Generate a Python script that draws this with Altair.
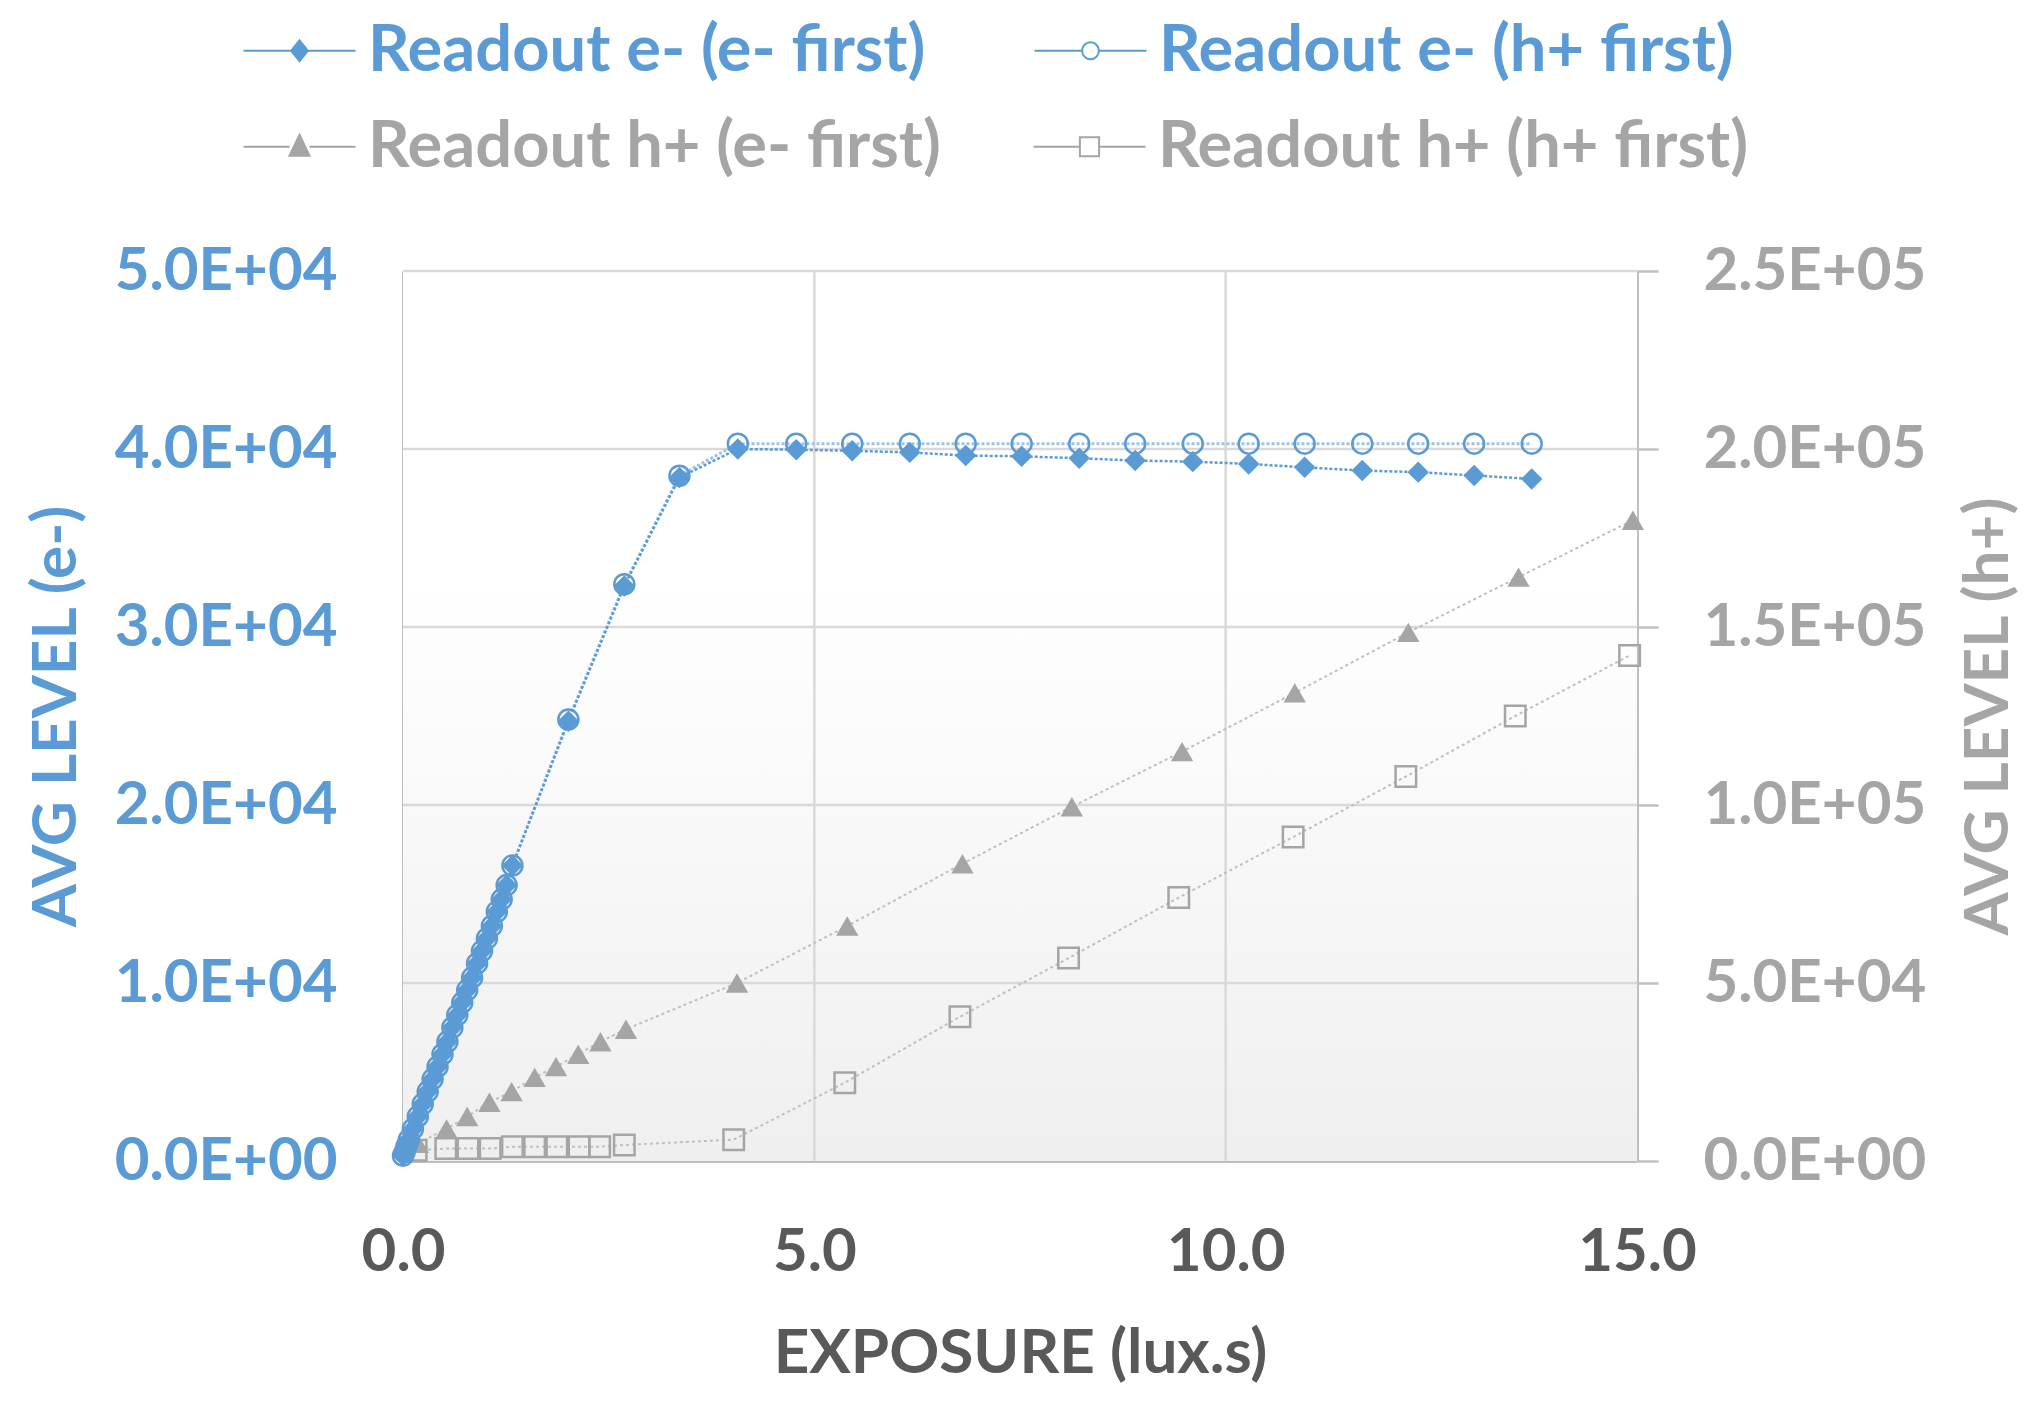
import altair as alt
import pandas as pd

# ---------------- data ----------------
x_e_first = [0.00, 0.02, 0.04, 0.07, 0.12, 0.18, 0.24, 0.30, 0.36, 0.42, 0.48, 0.54, 0.60,
             0.66, 0.72, 0.78, 0.84, 0.90, 0.96, 1.02, 1.08, 1.14, 1.20, 1.26, 1.33,
             2.01, 2.69, 3.36, 4.07, 4.78, 5.46, 6.16, 6.84, 7.52, 8.22, 8.90, 9.60,
             10.28, 10.96, 11.66, 12.34, 13.02, 13.72]
y_e_e_first = [300, 500, 800, 1200, 1800, 2500, 3200, 3900, 4600, 5300, 6000, 6700, 7500,
               8200, 8900, 9600, 10300, 11100, 11800, 12500, 13200, 14000, 14700, 15500, 16600,
               24700, 32300, 38400, 40000, 39960, 39900, 39810, 39630, 39590, 39480, 39350, 39290,
               39160, 38970, 38790, 38700, 38510, 38320]
y_e_h_first = [300, 500, 800, 1200, 1800, 2500, 3200, 3900, 4600, 5300, 6000, 6700, 7500,
               8200, 8900, 9600, 10300, 11100, 11800, 12500, 13200, 14000, 14700, 15500, 16600,
               24800, 32400, 38500, 40300, 40300, 40300, 40300, 40300, 40300, 40300, 40300, 40300,
               40300, 40300, 40300, 40300, 40300, 40300]

x_h_e_first = [0.18, 0.53, 0.78, 1.05, 1.32, 1.60, 1.86, 2.13, 2.40, 2.71, 4.06, 5.40, 6.80,
               8.13, 9.47, 10.84, 12.22, 13.56, 14.95]
y_h_e_first = [5000, 9000, 12500, 16500, 19500, 23500, 26500, 30000, 33500, 37000, 50000, 66000,
               83500, 99500, 115000, 131500, 148500, 164000, 180000]

x_h_h_first = [0.16, 0.52, 0.79, 1.06, 1.33, 1.60, 1.87, 2.14, 2.39, 2.69, 4.02, 5.37, 6.77,
               8.09, 9.43, 10.82, 12.19, 13.52, 14.91]
y_h_h_first = [3000, 3500, 3500, 3500, 4000, 4000, 4000, 4000, 4000, 4500, 6000, 22000, 40500,
               57000, 74000, 91000, 108000, 125000, 142000]

series_blue = ["Readout e- (e- first)", "Readout e- (h+ first)"]
series_gray = ["Readout h+ (e- first)", "Readout h+ (h+  first)"]

x_ticks = [0, 5, 10, 15]
left_ticks = [0, 10000, 20000, 30000, 40000, 50000]
left_labels = ["0.0E+00", "1.0E+04", "2.0E+04", "3.0E+04", "4.0E+04", "5.0E+04"]
right_ticks = [0, 50000, 100000, 150000, 200000, 250000]
right_labels = ["0.0E+00", "5.0E+04", "1.0E+05", "1.5E+05", "2.0E+05", "2.5E+05"]

# ---------------- styling ----------------
BLUE = "#5B9BD5"
LBLUE = "#9DC3E6"
GRAY = "#A5A5A5"
LGRAY = "#BFBFBF"
GRID = "#D9D9D9"
DARK = "#595959"
FONT = "Lato"
W, H = 1234, 890


def label_expr(vals, labs):
    parts = [f"datum.value == {v} ? '{l}'" for v, l in zip(vals, labs)]
    return " : ".join(parts) + " : ''"


x_axis = alt.Axis(values=x_ticks, format=".1f", grid=False, ticks=False, labelFlush=False,
                  domainColor=LGRAY, domainWidth=3, labelLimit=1000,
                  labelFont=FONT, labelFontSize=60, labelFontWeight="bold", labelColor=DARK,
                  labelPadding=62, title="EXPOSURE (lux.s)", titleFont=FONT, titleFontSize=62,
                  titleFontWeight="bold", titleColor=DARK, titlePadding=41)
x_enc = alt.X("x:Q", scale=alt.Scale(domain=[0, 15], nice=False), axis=x_axis)

left_axis = alt.Axis(orient="left", values=left_ticks, labelExpr=label_expr(left_ticks, left_labels),
                     grid=False, ticks=False, domainColor=LGRAY, domainWidth=3, labelLimit=1000,
                     labelFlush=False,
                     labelFont=FONT, labelFontSize=60, labelFontWeight="bold", labelColor=BLUE,
                     labelPadding=66, title="AVG LEVEL (e-)", titleFont=FONT, titleFontSize=62,
                     titleFontWeight="bold", titleColor=BLUE, titleAngle=270,
                     titleX=-347, titleY=H / 2, titleBaseline="middle", titleAlign="center")
right_axis = alt.Axis(orient="right", values=right_ticks, labelExpr=label_expr(right_ticks, right_labels),
                      grid=False, ticks=True, tickSize=21, tickWidth=2.5, tickColor=LGRAY,
                      domainColor=LGRAY, domainWidth=3, labelLimit=1000, labelFlush=False,
                      labelFont=FONT, labelFontSize=60, labelFontWeight="bold", labelColor=GRAY,
                      labelPadding=45, title="AVG LEVEL (h+)", titleFont=FONT, titleFontSize=62,
                      titleFontWeight="bold", titleColor=GRAY, titleAngle=270,
                      titleX=351, titleY=H / 2, titleBaseline="middle", titleAlign="center")

left_scale = alt.Scale(domain=[0, 50000], nice=False)
right_scale = alt.Scale(domain=[0, 250000], nice=False)

df_e_e = pd.DataFrame({"x": x_e_first, "y": y_e_e_first})
df_e_h = pd.DataFrame({"x": x_e_first, "y": y_e_h_first})
df_h_e = pd.DataFrame({"x": x_h_e_first, "y": y_h_e_first})
df_h_h = pd.DataFrame({"x": x_h_h_first, "y": y_h_h_first})

# background gradient
bg = alt.Chart(pd.DataFrame({"a": [0]})).mark_rect(
    color=alt.LinearGradient(gradient="linear",
                             stops=[alt.GradientStop(color="#FFFFFF", offset=0),
                                    alt.GradientStop(color="#FFFFFF", offset=0.35),
                                    alt.GradientStop(color="#EFEFEF", offset=1)],
                             x1=0, x2=0, y1=0, y2=1)
).encode(x=alt.value(0), x2=alt.value(W), y=alt.value(0), y2=alt.value(H))

# grid
hgrid = alt.Chart(pd.DataFrame({"y": right_ticks[1:]})).mark_rule(color=GRID, strokeWidth=2.5).encode(
    y=alt.Y("y:Q", scale=right_scale, axis=right_axis))
vgrid = alt.Chart(pd.DataFrame({"x": x_ticks[1:3]})).mark_rule(color=GRID, strokeWidth=2.5).encode(
    x=x_enc)

# paths for legend symbols (line + marker)
P_DIAMOND = "M-2.8,0H-0.45M0.45,0H2.8M0,-0.52L0.42,0L0,0.52L-0.42,0Z"
P_CIRCLE = "M-2.8,0H-0.45M0.45,0H2.8M0.42,0A0.42,0.42 0 1,1 -0.42,0A0.42,0.42 0 1,1 0.42,0Z"
P_TRI = "M-2.8,0H-0.5M0.5,0H2.8M0,-0.6L0.5,0.45L-0.5,0.45Z"
P_SQUARE = "M-2.8,0H-0.5M0.5,0H2.8M-0.48,-0.48H0.48V0.48H-0.48Z"


def make_legend(color, lx, ly, colpad):
    return alt.Legend(title=None, orient="none", legendX=lx, legendY=ly, direction="horizontal",
                      columns=2, columnPadding=colpad, padding=0,
                      labelFont=FONT, labelFontSize=65, labelFontWeight="bold", labelColor=color,
                      labelOffset=36, labelLimit=1000, symbolSize=1600, symbolStrokeColor=color,
                      symbolStrokeWidth=2, symbolOpacity=1)


leg_blue = make_legend(BLUE, -136, -253, 104)
leg_gray = make_legend(GRAY, -136, -157, 88)


def legend_layer(names, paths, fills, color, leg):
    return alt.Chart(pd.DataFrame({"series": names})).mark_point(size=0, strokeWidth=2).encode(
        shape=alt.Shape("series:N", scale=alt.Scale(domain=names, range=paths), legend=leg),
        fill=alt.Fill("series:N", scale=alt.Scale(domain=names, range=fills), legend=leg),
        stroke=alt.Stroke("series:N", scale=alt.Scale(domain=names, range=[color, color]), legend=leg))


legend_blue = legend_layer(series_blue, [P_DIAMOND, P_CIRCLE], [BLUE, "#FFFFFF"], BLUE, leg_blue)
legend_gray = legend_layer(series_gray, [P_TRI, P_SQUARE], [GRAY, "#FFFFFF"], GRAY, leg_gray)


def yl(scale, axis):
    return alt.Y("y:Q", scale=scale, axis=axis)


# gray series (right axis)
line_h_e = alt.Chart(df_h_e).mark_line(color=LGRAY, strokeWidth=2, strokeDash=[3, 3]).encode(
    x=x_enc, y=yl(right_scale, right_axis))
pts_h_e = alt.Chart(df_h_e).mark_point(shape="triangle-up", filled=True, color=GRAY, size=500,
                                       opacity=1).encode(x=x_enc, y=yl(right_scale, right_axis))
line_h_h = alt.Chart(df_h_h).mark_line(color=LGRAY, strokeWidth=2, strokeDash=[3, 3]).encode(
    x=x_enc, y=yl(right_scale, right_axis))
pts_h_h = alt.Chart(df_h_h).mark_point(shape="square", filled=False, color=GRAY, size=420,
                                       strokeWidth=2.5, opacity=1).encode(
    x=x_enc, y=yl(right_scale, right_axis))

right_group = alt.layer(hgrid, vgrid, line_h_e, line_h_h, pts_h_e, pts_h_h, legend_gray)

# blue series (left axis)
line_e_h = alt.Chart(df_e_h).mark_line(color=LBLUE, strokeWidth=3, strokeDash=[3, 2]).encode(
    x=x_enc, y=yl(left_scale, left_axis))
line_e_e = alt.Chart(df_e_e).mark_line(color=BLUE, strokeWidth=2.5, strokeDash=[3, 2]).encode(
    x=x_enc, y=yl(left_scale, left_axis))
pts_e_e = alt.Chart(df_e_e).mark_point(shape="diamond", filled=True, color=BLUE, size=460,
                                       opacity=1).encode(x=x_enc, y=yl(left_scale, left_axis))
pts_e_h = alt.Chart(df_e_h).mark_point(shape="circle", filled=False, color=BLUE, size=400,
                                       strokeWidth=2.5, opacity=1).encode(
    x=x_enc, y=yl(left_scale, left_axis))

left_group = alt.layer(line_e_h, line_e_e, pts_e_e, pts_e_h, legend_blue)

chart = alt.layer(bg, right_group, left_group).resolve_scale(
    y="independent", shape="independent", fill="independent", stroke="independent"
).properties(
    width=W, height=H, padding={"left": 17, "top": 10, "right": 5, "bottom": 5}
).configure_view(strokeWidth=0).configure(background="white")

chart.save("out.html", embed_options={"renderer": "svg", "actions": False})
